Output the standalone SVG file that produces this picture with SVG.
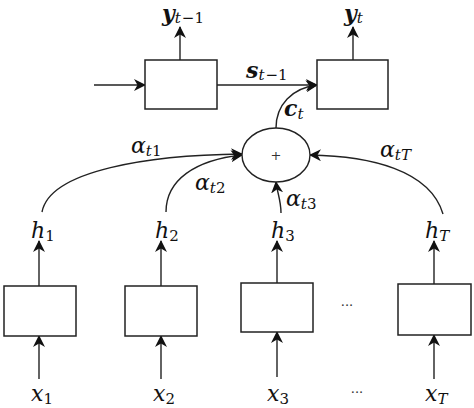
<svg xmlns="http://www.w3.org/2000/svg" width="474" height="408" viewBox="0 0 474 408">
<style>
.box{fill:#fff;stroke:#222;stroke-width:1.5}
.ln{fill:none;stroke:#222;stroke-width:1.4}
.lb{font-family:'DejaVu Serif','Liberation Serif',serif;font-size:22px;fill:#111}
.i{font-style:italic}
.b{font-weight:bold;font-style:italic}
.sub{font-size:15px}
.dots{font-family:'DejaVu Serif',serif;font-size:13px;fill:#333}
</style>
<defs>
<marker id="ah" markerUnits="userSpaceOnUse" markerWidth="13" markerHeight="13" refX="11" refY="6" orient="auto">
<path d="M0,0 L12,6 L0,12 L3.5,6 z" fill="#111"/>
</marker>
</defs>
<rect width="474" height="408" fill="#fff"/>
<g id="connectors">
<line class="ln" x1="180" y1="60" x2="180" y2="27" marker-end="url(#ah)"/>
<line class="ln" x1="353" y1="60" x2="353" y2="27" marker-end="url(#ah)"/>
<line class="ln" x1="94" y1="85" x2="145" y2="85" marker-end="url(#ah)"/>
<line class="ln" x1="217" y1="85" x2="317" y2="85" marker-end="url(#ah)"/>
<path class="ln" d="M276,128 C276,105 292,88 317,85" marker-end="url(#ah)"/>
<path class="ln" d="M42,212 C50,170 150,155 242,154" marker-end="url(#ah)"/>
<path class="ln" d="M166,212 C166,180 195,160 242,155" marker-end="url(#ah)"/>
<path class="ln" d="M281,213 C281,200 277,192 276,182" marker-end="url(#ah)"/>
<path class="ln" d="M443,214 C430,170 370,156 310,155" marker-end="url(#ah)"/>
<line class="ln" x1="39" y1="286" x2="39" y2="241" marker-end="url(#ah)"/>
<line class="ln" x1="161" y1="286" x2="161" y2="241" marker-end="url(#ah)"/>
<line class="ln" x1="277" y1="283" x2="277" y2="241" marker-end="url(#ah)"/>
<line class="ln" x1="434" y1="284" x2="434" y2="241" marker-end="url(#ah)"/>
<line class="ln" x1="39" y1="379" x2="39" y2="336" marker-end="url(#ah)"/>
<line class="ln" x1="161" y1="379" x2="161" y2="336" marker-end="url(#ah)"/>
<line class="ln" x1="277" y1="377" x2="277" y2="332" marker-end="url(#ah)"/>
<line class="ln" x1="434" y1="379" x2="434" y2="335" marker-end="url(#ah)"/>
</g>
<g id="dec-prev"><rect class="box" x="145" y="60" width="72" height="49"/></g>
<g id="dec-cur"><rect class="box" x="317" y="60" width="71" height="49"/></g>
<g id="sum"><ellipse cx="276" cy="155" rx="34" ry="27" fill="#fff" stroke="#222" stroke-width="1.4"/>
<text x="276" y="160" text-anchor="middle" class="dots">+</text></g>
<g id="enc1"><rect class="box" x="4" y="286" width="72" height="50"/></g>
<g id="enc2"><rect class="box" x="125" y="286" width="72" height="50"/></g>
<g id="enc3"><rect class="box" x="241" y="283" width="72" height="49"/></g>
<g id="encT"><rect class="box" x="398" y="284" width="73" height="51"/></g>
<g id="labels">
<text class="lb" x="162" y="21"><tspan class="b">y</tspan><tspan class="sub i" dy="2">t</tspan><tspan class="sub" dx="1">−1</tspan></text>
<text class="lb" x="344" y="21"><tspan class="b">y</tspan><tspan class="sub i" dy="2">t</tspan></text>
<text class="lb" x="246" y="78"><tspan class="b">s</tspan><tspan class="sub i" dy="2">t</tspan><tspan class="sub" dx="1">−1</tspan></text>
<text class="lb" x="284" y="116"><tspan class="b">c</tspan><tspan class="sub i" dy="3">t</tspan></text>
<text class="lb" x="131" y="153"><tspan class="i">α</tspan><tspan class="sub i" dy="3">t</tspan><tspan class="sub">1</tspan></text>
<text class="lb" x="195" y="190"><tspan class="i">α</tspan><tspan class="sub i" dy="3">t</tspan><tspan class="sub">2</tspan></text>
<text class="lb" x="286" y="206"><tspan class="i">α</tspan><tspan class="sub i" dy="3">t</tspan><tspan class="sub">3</tspan></text>
<text class="lb" x="380" y="157"><tspan class="i">α</tspan><tspan class="sub i" dy="3">tT</tspan></text>
<text class="lb" x="31" y="238"><tspan class="i">h</tspan><tspan class="sub" dy="3">1</tspan></text>
<text class="lb" x="155" y="238"><tspan class="i">h</tspan><tspan class="sub" dy="3">2</tspan></text>
<text class="lb" x="271" y="238"><tspan class="i">h</tspan><tspan class="sub" dy="3">3</tspan></text>
<text class="lb" x="425" y="238"><tspan class="i">h</tspan><tspan class="sub i" dy="3">T</tspan></text>
<text class="lb" x="31" y="401"><tspan class="i">x</tspan><tspan class="sub" dy="3">1</tspan></text>
<text class="lb" x="153" y="401"><tspan class="i">x</tspan><tspan class="sub" dy="3">2</tspan></text>
<text class="lb" x="267" y="401"><tspan class="i">x</tspan><tspan class="sub" dy="3">3</tspan></text>
<text class="lb" x="425" y="401"><tspan class="i">x</tspan><tspan class="sub i" dy="3">T</tspan></text>
<text class="dots" x="347" y="310" text-anchor="middle">···</text>
<text class="dots" x="357" y="397" text-anchor="middle">···</text>
</g>
</svg>
